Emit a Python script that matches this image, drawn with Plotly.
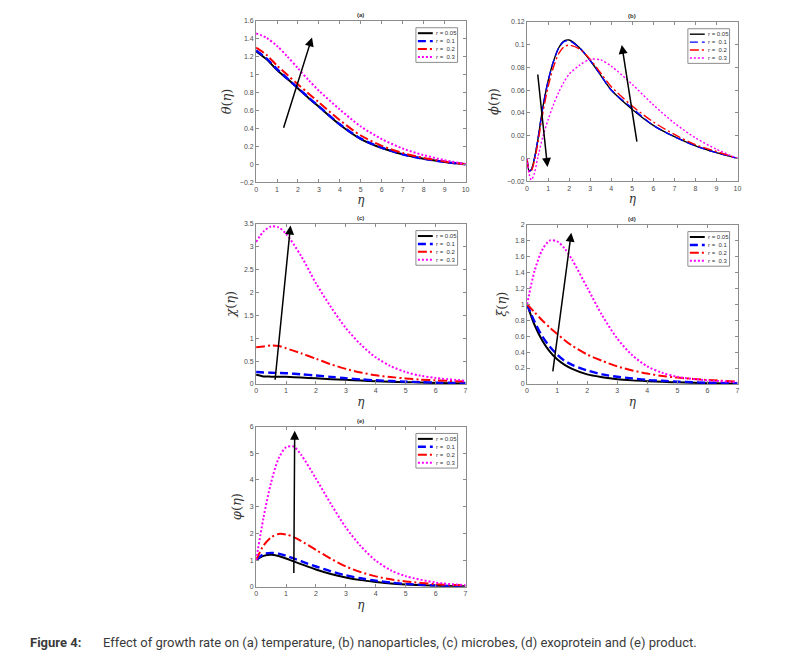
import plotly.graph_objects as go

W, H = 809, 666

# ---------------- data ----------------
r_labels = ["r = 0.05", "r =  0.1", "r =  0.2", "r =  0.3"]

eta_a = [0, 0.5, 1, 1.5, 2, 2.5, 3, 4, 5, 6, 7, 8, 9, 10]
theta_005 = [1.26, 1.17, 1.05, 0.95, 0.845, 0.74, 0.64, 0.44, 0.28, 0.18, 0.11, 0.06, 0.025, 0.0]
theta_01 = [1.27, 1.18, 1.06, 0.955, 0.85, 0.745, 0.645, 0.445, 0.285, 0.185, 0.11, 0.06, 0.025, 0.0]
theta_02 = [1.30, 1.22, 1.10, 0.995, 0.89, 0.79, 0.69, 0.49, 0.32, 0.205, 0.125, 0.07, 0.03, 0.0]
theta_03 = [1.46, 1.41, 1.32, 1.20, 1.07, 0.94, 0.82, 0.61, 0.42, 0.28, 0.175, 0.10, 0.045, 0.0]

eta_b = [0, 0.1, 0.2, 0.35, 0.5, 0.75, 1, 1.25, 1.5, 1.75, 2, 2.5, 3, 3.5, 4, 5, 6, 7, 8, 9, 10]
phi_005 = [0, -0.011, -0.010, 0.0, 0.015, 0.045, 0.068, 0.085, 0.097, 0.103, 0.104, 0.097, 0.086, 0.073, 0.060, 0.043, 0.029, 0.019, 0.011, 0.005, 0]
phi_01 = [0, -0.011, -0.010, 0.0, 0.015, 0.045, 0.068, 0.085, 0.097, 0.1025, 0.1035, 0.097, 0.086, 0.073, 0.060, 0.044, 0.029, 0.019, 0.011, 0.005, 0]
phi_02 = [0, -0.012, -0.011, -0.002, 0.012, 0.040, 0.063, 0.080, 0.092, 0.098, 0.0995, 0.096, 0.087, 0.075, 0.063, 0.046, 0.032, 0.021, 0.012, 0.006, 0]
phi_03 = [0, -0.014, -0.019, -0.013, 0.0, 0.019, 0.034, 0.047, 0.058, 0.067, 0.074, 0.082, 0.087, 0.0865, 0.081, 0.065, 0.047, 0.031, 0.018, 0.008, 0]

eta_c = [0, 0.25, 0.5, 0.75, 1, 1.5, 2, 2.5, 3, 3.5, 4, 4.5, 5, 5.5, 6, 7]
chi_005 = [0.20, 0.165, 0.16, 0.16, 0.155, 0.14, 0.125, 0.105, 0.09, 0.075, 0.06, 0.05, 0.04, 0.03, 0.022, 0.012]
chi_01 = [0.26, 0.25, 0.245, 0.24, 0.235, 0.21, 0.185, 0.155, 0.125, 0.10, 0.08, 0.065, 0.05, 0.04, 0.03, 0.02]
chi_02 = [0.80, 0.82, 0.84, 0.83, 0.78, 0.67, 0.55, 0.43, 0.33, 0.25, 0.19, 0.15, 0.12, 0.095, 0.08, 0.05]
chi_03 = [3.10, 3.33, 3.44, 3.42, 3.28, 2.80, 2.20, 1.68, 1.22, 0.86, 0.58, 0.39, 0.26, 0.18, 0.13, 0.07]

eta_d = [0, 0.25, 0.5, 0.75, 1, 1.25, 1.5, 2, 2.5, 3, 3.5, 4, 4.5, 5, 6, 7]
xi_005 = [1.0, 0.74, 0.55, 0.41, 0.31, 0.24, 0.19, 0.12, 0.085, 0.06, 0.045, 0.035, 0.027, 0.02, 0.01, 0.005]
xi_01 = [1.0, 0.78, 0.60, 0.47, 0.37, 0.29, 0.24, 0.17, 0.12, 0.09, 0.07, 0.05, 0.04, 0.03, 0.015, 0.008]
xi_02 = [1.0, 0.90, 0.80, 0.71, 0.63, 0.55, 0.48, 0.37, 0.29, 0.22, 0.17, 0.13, 0.10, 0.08, 0.05, 0.03]
xi_03 = [1.0, 1.42, 1.68, 1.80, 1.79, 1.70, 1.56, 1.21, 0.86, 0.57, 0.36, 0.22, 0.14, 0.09, 0.045, 0.025]

eta_e = [0, 0.25, 0.5, 0.75, 1, 1.25, 1.5, 2, 2.5, 3, 3.5, 4, 4.5, 5, 6, 7]
vphi_005 = [1.0, 1.16, 1.20, 1.15, 1.06, 0.95, 0.85, 0.65, 0.48, 0.35, 0.25, 0.18, 0.12, 0.085, 0.04, 0.02]
vphi_01 = [1.0, 1.22, 1.27, 1.24, 1.16, 1.06, 0.96, 0.76, 0.58, 0.43, 0.32, 0.23, 0.16, 0.11, 0.05, 0.025]
vphi_02 = [1.0, 1.55, 1.85, 1.98, 1.96, 1.86, 1.72, 1.38, 1.05, 0.76, 0.55, 0.39, 0.28, 0.20, 0.10, 0.05]
vphi_03 = [1.0, 2.6, 3.9, 4.8, 5.22, 5.25, 4.95, 4.05, 3.1, 2.22, 1.52, 0.98, 0.62, 0.40, 0.16, 0.06]

# arrows: (tail_x, tail_y, head_x, head_y)
arrows_a = [(1.29, 0.39, 2.67, 1.415)]
arrows_b = [(0.5, 0.075, 0.97, -0.0075), (5.23, 0.0133, 4.5, 0.0997)]
arrows_c = [(0.63, 0.06, 1.15, 3.46)]
arrows_d = [(0.85, 0.14, 1.47, 1.9)]
arrows_e = [(1.26, 0.46, 1.29, 5.84)]

# ---------------- styling ----------------
colors = ["#000000", "#0000ff", "#ff0000", "#ff00ff"]
dashes = ["solid", "8px,4px", "9px,3px,2px,3px", "2px,2px"]

# pixel boxes of axes (left, right, top, bottom)
boxes = {
    1: (256, 467, 17, 180),
    2: (529, 741, 18, 179),
    3: (256, 467, 222, 384),
    4: (529, 741, 223, 384),
    5: (256, 467, 427, 589),
}

panels = [
    dict(k=1, tag="(a)", eta=eta_a, ys=[theta_005, theta_01, theta_02, theta_03],
         ylab="<i>θ</i>(<i>η</i>)", xr=[0, 10], yr=[-0.2, 1.6], dt_y=0.2, dt_x=1,
         arrows=arrows_a, lw=2.0),
    dict(k=2, tag="(b)", eta=eta_b, ys=[phi_005, phi_01, phi_02, phi_03],
         ylab="<i>ϕ</i>(<i>η</i>)", xr=[0, 10], yr=[-0.02, 0.12], dt_y=0.02, dt_x=1,
         arrows=arrows_b, lw=1.4),
    dict(k=3, tag="(c)", eta=eta_c, ys=[chi_005, chi_01, chi_02, chi_03],
         ylab="<i>χ</i>(<i>η</i>)", xr=[0, 7], yr=[0, 3.5], dt_y=0.5, dt_x=1,
         arrows=arrows_c, lw=2.0),
    dict(k=4, tag="(d)", eta=eta_d, ys=[xi_005, xi_01, xi_02, xi_03],
         ylab="<i>ξ</i>(<i>η</i>)", xr=[0, 7], yr=[0, 2], dt_y=0.2, dt_x=1,
         arrows=arrows_d, lw=2.0),
    dict(k=5, tag="(e)", eta=eta_e, ys=[vphi_005, vphi_01, vphi_02, vphi_03],
         ylab="<i>φ</i>(<i>η</i>)", xr=[0, 7], yr=[0, 6], dt_y=1, dt_x=1,
         arrows=arrows_e, lw=2.0),
]

fig = go.Figure()
annotations = []
shapes = []
layout = dict(
    width=W, height=H,
    margin=dict(l=0, r=0, t=0, b=0),
    paper_bgcolor="white", plot_bgcolor="white",
    showlegend=False,
    font=dict(family="Liberation Sans, Arial, sans-serif", size=7, color="#333333"),
)

tickfont = dict(family="Liberation Sans, Arial, sans-serif", size=7, color="#4d4d4d")
GRAY = "#8c8c8c"

for p in panels:
    k = p["k"]
    L, R, T, B = boxes[k]
    aw, ah = R - L, B - T
    xd = [L / W, R / W]
    yd = [1 - B / H, 1 - T / H]
    xa = "x" if k == 1 else f"x{k}"
    ya = "y" if k == 1 else f"y{k}"
    xdom = f"{xa} domain"
    ydom = f"{ya} domain"
    widths = []
    for i in range(4):
        w = p["lw"] + (0.4 if i == 1 and k != 2 else 0)
        widths.append(w)
        fig.add_trace(go.Scatter(
            x=p["eta"], y=p["ys"][i], mode="lines", name=r_labels[i],
            line=dict(color=colors[i], width=w, dash=dashes[i], shape="spline", smoothing=0.8),
            xaxis=xa, yaxis=ya,
        ))
    axcommon = dict(
        showgrid=False, zeroline=False, showline=True, linecolor=GRAY, linewidth=1,
        mirror="ticks", ticks="inside", ticklen=3, tickcolor=GRAY, tickwidth=1,
        tickfont=tickfont,
    )
    layout["xaxis" if k == 1 else f"xaxis{k}"] = dict(
        domain=xd, range=p["xr"], dtick=p["dt_x"], tick0=0, anchor=ya,
        title=dict(text="<i>η</i>", font=dict(family="DejaVu Serif, serif", size=12, color="#333333"), standoff=4),
        **axcommon)
    layout["yaxis" if k == 1 else f"yaxis{k}"] = dict(
        domain=yd, range=p["yr"], dtick=p["dt_y"], tick0=p["yr"][0], anchor=xa,
        title=dict(text=p["ylab"], font=dict(family="DejaVu Serif, serif", size=13, color="#333333"), standoff=5),
        **axcommon)

    # compact in-axes legend box (MATLAB style)
    lw_px, lh_px = 42, 35
    x1 = 1 - 8 / aw
    x0 = x1 - lw_px / aw
    y1 = 1 - 7 / ah
    y0 = y1 - lh_px / ah
    shapes.append(dict(type="rect", xref=xdom, yref=ydom, x0=x0, x1=x1, y0=y0, y1=y1,
                       fillcolor="white", line=dict(color=GRAY, width=1), layer="above"))
    for i in range(4):
        yc = y1 - (5.5 + 8 * i) / ah
        shapes.append(dict(type="line", xref=xdom, yref=ydom,
                           x0=x0 + 2 / aw, x1=x0 + 17 / aw, y0=yc, y1=yc,
                           line=dict(color=colors[i], width=widths[i], dash=dashes[i]), layer="above"))
        annotations.append(dict(
            text=r_labels[i], xref=xdom, yref=ydom, x=x0 + 18 / aw, y=yc,
            xanchor="left", yanchor="middle", showarrow=False,
            font=dict(family="Liberation Sans, Arial, sans-serif", size=6, color="#333333"),
        ))

    # panel tag
    annotations.append(dict(
        text=f"<b>{p['tag']}</b>", xref=xdom, yref=ydom, x=0.5, y=1.0,
        xanchor="center", yanchor="bottom", showarrow=False, yshift=1,
        font=dict(family="Liberation Sans, Arial, sans-serif", size=6, color="#333333"),
    ))
    for (tx, ty, hx, hy) in p["arrows"]:
        annotations.append(dict(
            x=hx, y=hy, ax=tx, ay=ty, xref=xa, yref=ya, axref=xa, ayref=ya,
            showarrow=True, arrowhead=2, arrowsize=1.2, arrowwidth=1.5, arrowcolor="#000000",
            text="",
        ))

cap_font = dict(family="Liberation Sans Narrow, Arial Narrow, Roboto, sans-serif", size=13, color="#3a3a3a")
annotations.append(dict(
    text="<b>Figure 4:</b>", xref="paper", yref="paper", x=26 / W, y=1 - 645 / H,
    xanchor="left", yanchor="middle", showarrow=False, font=cap_font,
))
annotations.append(dict(
    text="Effect of growth rate on (a) temperature, (b) nanoparticles, (c) microbes, (d) exoprotein and (e) product.",
    xref="paper", yref="paper", x=100 / W, y=1 - 645 / H,
    xanchor="left", yanchor="middle", showarrow=False, font=cap_font,
))

layout["annotations"] = annotations
layout["shapes"] = shapes
fig.update_layout(**layout)
fig.write_html("out.html")
